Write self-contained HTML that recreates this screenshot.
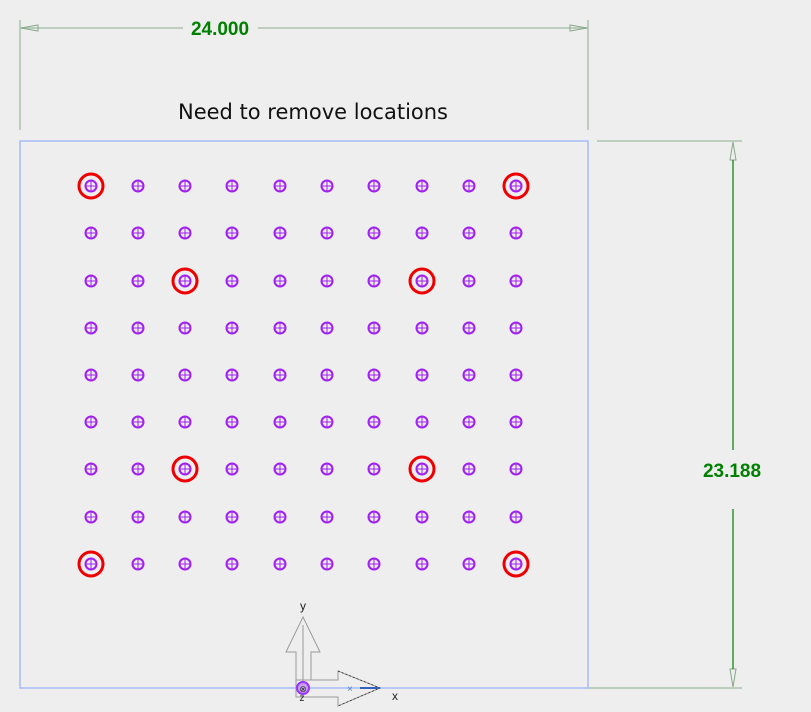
<!DOCTYPE html>
<html><head><meta charset="utf-8"><style>
html,body{margin:0;padding:0;background:#eeeeee;width:811px;height:712px;overflow:hidden}
svg{display:block}
</style></head><body>
<svg id="s" width="811" height="712" xmlns="http://www.w3.org/2000/svg">
<rect width="811" height="712" fill="#eeeeee"/>
<g stroke="#adc4ad" stroke-width="1.5" fill="none">
<line x1="20" y1="20" x2="20" y2="130"/>
<line x1="588" y1="20" x2="588" y2="130"/>
<line x1="597" y1="141" x2="742" y2="141"/>
<line x1="588" y1="688" x2="742" y2="688"/>
<line x1="20" y1="28" x2="183" y2="28"/>
<line x1="258" y1="28" x2="588" y2="28"/>
</g>
<g stroke="#8aa88a" stroke-width="1" fill="none">
<polygon points="21,28 38,25 38,31"/>
<polygon points="587,28 570,25 570,31"/>
<polygon points="733,142 730,160 736,160"/>
<polygon points="733,687 730,669 736,669"/>
</g>
<g stroke="#008000" stroke-width="1.2">
<line x1="733" y1="160" x2="733" y2="450"/>
<line x1="733" y1="509" x2="733" y2="669"/>
</g>
<text x="220" y="35" font-family="Liberation Sans, sans-serif" font-size="19" font-weight="bold" fill="#008000" text-anchor="middle">24.000</text>
<text x="732" y="477" font-family="Liberation Sans, sans-serif" font-size="19" font-weight="bold" fill="#008000" text-anchor="middle">23.188</text>
<text x="313" y="119" font-family="DejaVu Sans, sans-serif" font-size="21" fill="#111" text-anchor="middle">Need to remove locations</text>
<rect x="20" y="141" width="568" height="547" fill="none" stroke="#a6bcf6" stroke-width="1.5"/>
<g id="holes"></g>
<g stroke="#9a9a9a" stroke-width="1" fill="none">
<polyline points="296,680 296,652 286,652 303,617 320,652 311,652 311,680"/>
<polyline points="296,680 338,680 338,671 380,688 338,706 338,697 296,697 296,680"/>
<line x1="303" y1="625" x2="303" y2="688"/>
</g>
<polyline points="338,671 380,688 338,706" fill="none" stroke="#333" stroke-width="0.8" stroke-dasharray="2,2"/>
<line x1="360" y1="688" x2="380" y2="688" stroke="#3060c0" stroke-width="2"/>
<circle cx="303" cy="688" r="6" fill="#c9a0f0" stroke="#9933ff" stroke-width="2"/>
<text x="303" y="692" font-family="Liberation Sans, sans-serif" font-size="9" fill="#333" text-anchor="middle">⊗</text>
<text x="347" y="692" font-family="Liberation Sans, sans-serif" font-size="10" fill="#5080c0">×</text>
<text x="303" y="610" font-family="Liberation Sans, sans-serif" font-size="12" fill="#222" text-anchor="middle">y</text>
<text x="395" y="700" font-family="Liberation Sans, sans-serif" font-size="12" fill="#222" text-anchor="middle">x</text>
<text x="302" y="701" font-family="Liberation Sans, sans-serif" font-size="10" fill="#222" text-anchor="middle">z</text>
</svg>
<script>
var g=document.getElementById('holes'),h='';
var xs=[91,138,185,232,280,327,374,422,469,516],ys=[186,233,281,328,375,422,469,517,564];
var red={'0,0':1,'9,0':1,'2,2':1,'7,2':1,'2,6':1,'7,6':1,'0,8':1,'9,8':1};
for(var j=0;j<ys.length;j++)for(var i=0;i<xs.length;i++){var x=xs[i],y=ys[j];
h+='<circle cx="'+x+'" cy="'+y+'" r="5.5" fill="none" stroke="#a020f0" stroke-width="2"/>';
h+='<line x1="'+(x-5)+'" y1="'+y+'" x2="'+(x+5)+'" y2="'+y+'" stroke="#a020f0" stroke-width="1"/>';
h+='<line x1="'+x+'" y1="'+(y-5)+'" x2="'+x+'" y2="'+(y+5)+'" stroke="#a020f0" stroke-width="1"/>';
if(red[i+','+j])h+='<circle cx="'+x+'" cy="'+y+'" r="12" fill="none" stroke="#ee0000" stroke-width="3"/>';}
g.innerHTML=h;
</script>
</body></html>
